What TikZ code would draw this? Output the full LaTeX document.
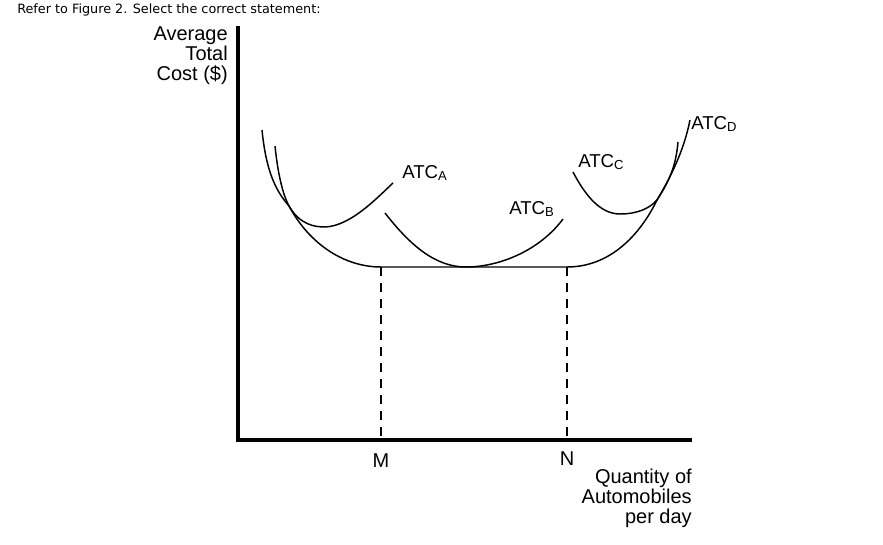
\documentclass[tikz,border=0pt]{standalone}
\usepackage{fontspec}
\setmainfont{Liberation Sans}
\newfontfamily\titlefont{DejaVu Sans}
\begin{document}
\begin{tikzpicture}[x=0.75pt,y=-0.75pt,
  curve/.style={line width=1.1pt},
  axis/.style={line width=2.6pt},
  lab/.style={font=\fontsize{15}{15}\selectfont,inner sep=0pt},
  atc/.style={font=\fontsize{14}{15}\selectfont,inner sep=0pt}]
\useasboundingbox[fill=white] (0,0) rectangle (883,545);
\node[anchor=west,font=\titlefont\fontsize{9.6}{11}\selectfont,inner sep=0pt] (title) at (17,10) {Refer to Figure 2. Select the correct statement:};
\coordinate (o) at (238,440);
\coordinate (ytop) at (238,26);
\coordinate (xend) at (692,440);
\draw[axis] (ytop) -- (o) -- (xend);
\node[lab,anchor=east,align=right] (ylab) at (228,56) {Average\\Total\\Cost (\$)};
% envelope
\coordinate (m) at (381,267);
\coordinate (n) at (567,267);
\coordinate (ta) at (289,206);
\coordinate (tc) at (657,200);
\draw[curve] (262,130) .. controls (266,170) and (275,190) .. (ta) .. controls (310,245) and (345,267) .. (m) -- (n) .. controls (610,267) and (640,235) .. (tc) .. controls (675,170) and (685,145) .. (690,120);
% ATC A
\draw[curve] (275,146) .. controls (278,175) and (283,195) .. (ta) .. controls (300,225) and (315,227) .. (325,227) .. controls (350,226) and (375,200) .. (393,183);
% ATC B
\draw[curve] (385,213) .. controls (410,245) and (435,267) .. (466,267) .. controls (500,267) and (540,250) .. (563,219);
% ATC C
\draw[curve] (573,172) .. controls (585,195) and (600,214) .. (620,214) .. controls (638,214) and (650,208) .. (tc) .. controls (670,180) and (676,165) .. (678,142);
\draw[line width=1pt,dash pattern=on 7pt off 5pt] (m) -- (381,440);
\draw[line width=1pt,dash pattern=on 7pt off 5pt] (n) -- (567,440);
\node[atc,anchor=west] (la) at (402,173) {ATC\textsubscript{A}};
\node[atc,anchor=west] (lb) at (509,209) {ATC\textsubscript{B}};
\node[atc,anchor=west] (lc) at (578,162) {ATC\textsubscript{C}};
\node[atc,anchor=west] (ld) at (691,124) {ATC\textsubscript{D}};
\node[lab] (lm) at (381,461) {M};
\node[lab] (ln) at (567,459) {N};
\node[lab,anchor=north east,align=right] (xlab) at (692,469) {Quantity of\\Automobiles\\per day};
\end{tikzpicture}
\end{document}
